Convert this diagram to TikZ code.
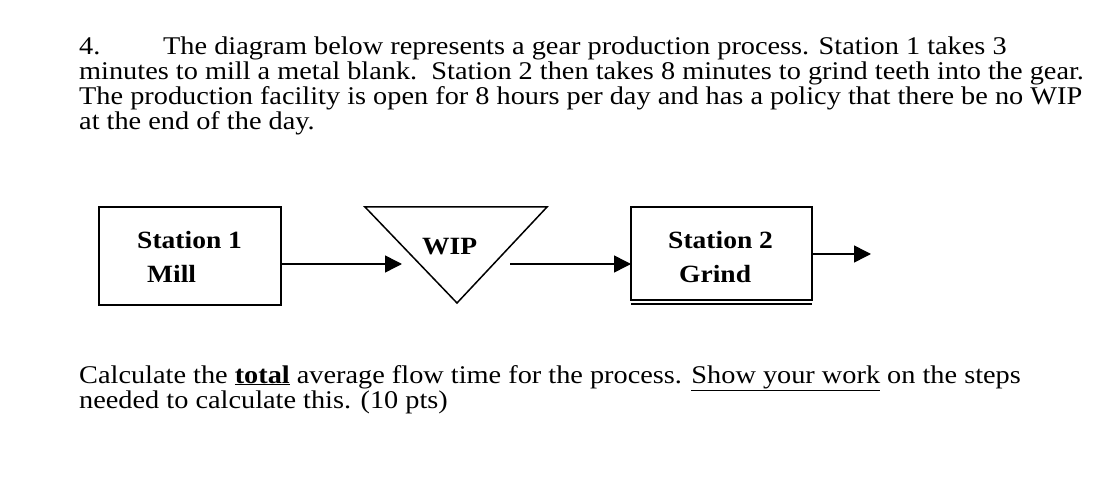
\documentclass[tikz,border=0pt]{standalone}
\usepackage{fontspec}
\setmainfont[FakeStretch=1.11]{Liberation Serif}
\usetikzlibrary{arrows.meta}
\begin{document}
\begin{tikzpicture}[x=1pt,y=-1pt,
  txt/.style={anchor=base west,inner sep=0pt,font=\fontsize{25.5}{25}\selectfont},
  lbl/.style={anchor=base west,inner sep=0pt,font=\fontsize{24.8}{24}\selectfont\bfseries},
  box/.style={draw,line width=1.5pt},
  conn/.style={line width=1.5pt,-{Triangle[length=17pt,width=17pt]}}]
\useasboundingbox (0,0) rectangle (1106,486);
\node[txt] (n4) at (79,55) {4.};
\node[txt] (l1) at (163,55) {The diagram below represents a gear production process. Station 1 takes 3};
\node[txt] (l2) at (79,80) {minutes to mill a metal blank.\ \ Station 2 then takes 8 minutes to grind teeth into the gear.};
\node[txt] (l3) at (79,105) {The production facility is open for 8 hours per day and has a policy that there be no WIP};
\node[txt] (l4) at (79,130) {at the end of the day.};
\draw[box] (99,207) rectangle (281,305);
\coordinate (b1r) at (281,264);
\node[lbl] (s1) at (137,249) {Station 1};
\node[lbl] (m1) at (147,283) {Mill};
\draw[box] (365,207) -- (547,207) -- (457,303) -- cycle;
\coordinate (tl) at (402,264);
\coordinate (tr) at (510,264);
\node[lbl] (wip) at (422,255) {WIP};
\draw[box] (631,207) rectangle (812,300);
\draw[line width=1.5pt] (631,304) -- (812,304);
\coordinate (b2l) at (631,264);
\coordinate (b2r) at (812,254);
\coordinate (out) at (871,254);
\node[lbl] (s2) at (668,249) {Station 2};
\node[lbl] (g2) at (679,283) {Grind};
\draw[conn] (b1r) -- (tl);
\draw[conn] (tr) -- (b2l);
\draw[conn] (b2r) -- (out);
\node[txt] (c1) at (79,383) {Calculate the \textbf{\underline{total}} average flow time for the process. \underline{Show your work} on the steps};
\node[txt] (c2) at (79,408) {needed to calculate this. (10 pts)};
\end{tikzpicture}
\end{document}
